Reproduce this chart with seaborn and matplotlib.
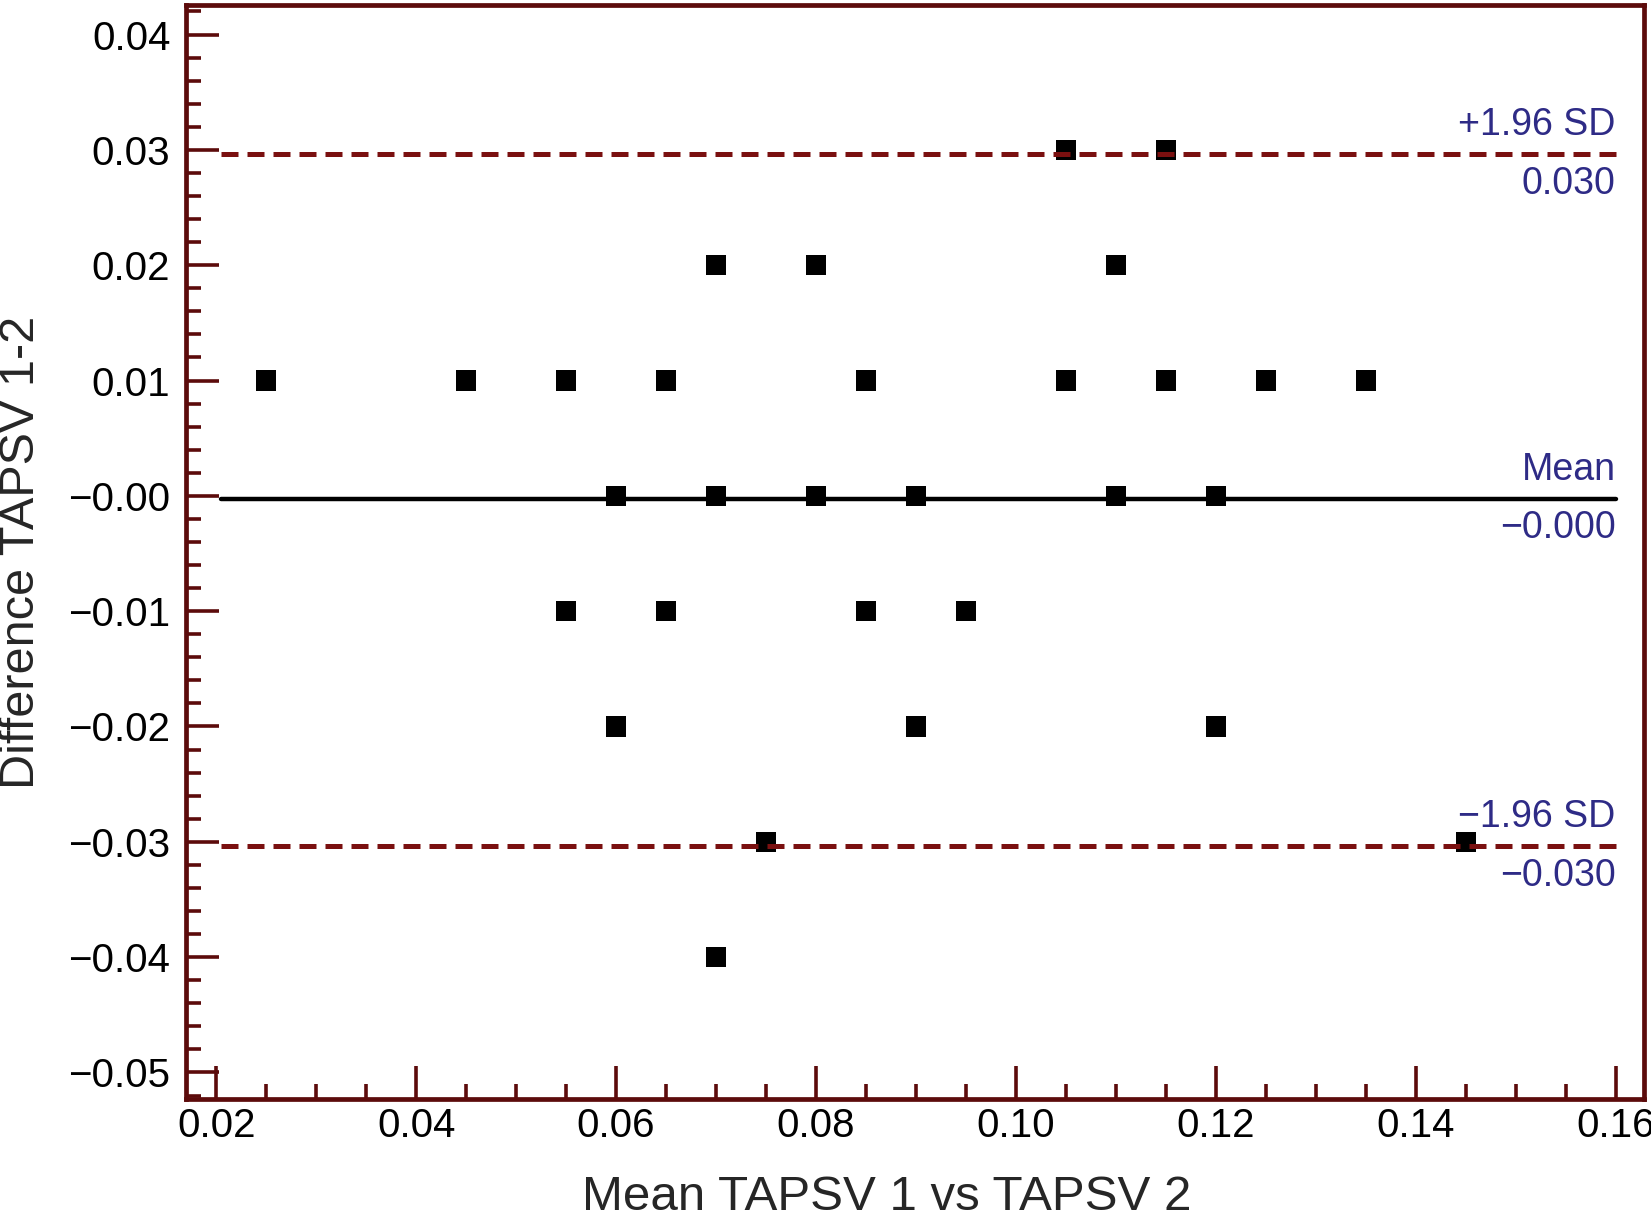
import numpy as np
import pandas as pd
import matplotlib
matplotlib.use("Agg")
import matplotlib.pyplot as plt
import seaborn as sns
from matplotlib.ticker import MultipleLocator, FormatStrFormatter

# Bland-Altman data
mean_tapsv = [0.025, 0.045, 0.055, 0.065, 0.085, 0.105, 0.115, 0.125, 0.135,
              0.070, 0.080, 0.110,
              0.105, 0.115,
              0.060, 0.070, 0.080, 0.090, 0.110, 0.120,
              0.055, 0.065, 0.085, 0.095,
              0.060, 0.090, 0.120,
              0.075, 0.145,
              0.070]
diff_tapsv = [0.01, 0.01, 0.01, 0.01, 0.01, 0.01, 0.01, 0.01, 0.01,
              0.02, 0.02, 0.02,
              0.03, 0.03,
              0.0, 0.0, 0.0, 0.0, 0.0, 0.0,
              -0.01, -0.01, -0.01, -0.01,
              -0.02, -0.02, -0.02,
              -0.03, -0.03,
              -0.04]

mean_diff = -0.0003
upper_loa = 0.0296
lower_loa = -0.0304
line_labels = ['+1.96 SD', 'Mean', '\u22121.96 SD']
line_values = ['0.030', '\u22120.000', '\u22120.030']
ytick_labels = ['\u22120.05', '\u22120.04', '\u22120.03', '\u22120.02', '\u22120.01',
                '\u22120.00', '0.01', '0.02', '0.03', '0.04']

df = pd.DataFrame({'mean': mean_tapsv, 'diff': diff_tapsv})

sns.set_style('white')
plt.rcParams['font.family'] = ['Liberation Sans', 'DejaVu Sans']

dark_red = '#5c0b0b'
navy = '#2e2b86'

fig = plt.figure(figsize=(16.51, 12.16), dpi=100)
ax = fig.add_axes([0.1124, 0.0962, 0.8834, 0.8997])

sns.scatterplot(data=df, x='mean', y='diff', marker='s', s=210,
                color='black', edgecolor='none', ax=ax, zorder=2)

x0, x1 = 0.0205, 0.16
ax.plot([x0, x1], [mean_diff, mean_diff], color='black', lw=3.2, zorder=3)
for yv in (upper_loa, lower_loa):
    ax.plot([x0, x1], [yv, yv], color='#7a1010', lw=3.6,
            linestyle=(0, (3.4, 1.8)), zorder=3)

for yv, lab, val in zip([upper_loa, mean_diff, lower_loa], line_labels, line_values):
    ax.annotate(lab, (x1, yv), xytext=(0, 8), textcoords='offset points',
                ha='right', va='bottom', color=navy, fontsize=27)
    ax.annotate(val, (x1, yv), xytext=(0, -8), textcoords='offset points',
                ha='right', va='top', color=navy, fontsize=27)

ax.set_xlim(0.01694, 0.16285)
ax.set_ylim(-0.0523, 0.04256)

ax.xaxis.set_major_locator(MultipleLocator(0.02))
ax.xaxis.set_minor_locator(MultipleLocator(0.005))
ax.xaxis.set_major_formatter(FormatStrFormatter('%.2f'))
ax.set_yticks(np.arange(-0.05, 0.0401, 0.01))
ax.set_yticklabels(ytick_labels)
ax.yaxis.set_minor_locator(MultipleLocator(0.002))

ax.tick_params(axis='both', which='both', bottom=True, left=True, top=False, right=False)
ax.tick_params(axis='both', which='major', direction='in', length=24, width=2.6,
               color=dark_red, labelsize=29, labelcolor='black')
ax.tick_params(axis='both', which='minor', direction='in', length=11, width=2.6,
               color=dark_red)
ax.tick_params(axis='y', which='major', pad=11)
ax.tick_params(axis='x', which='major', pad=6)

for sp in ax.spines.values():
    sp.set_color(dark_red)
    sp.set_linewidth(3.4)
    sp.set_visible(True)

ax.set_xlabel('Mean TAPSV 1 vs TAPSV 2', fontsize=35.5)
ax.set_ylabel('Difference TAPSV 1-2', fontsize=35)
ax.xaxis.set_label_coords(0.481, -0.069)
ax.yaxis.set_label_coords(-0.097, 0.5)

fig.savefig('out.png', dpi=100)
